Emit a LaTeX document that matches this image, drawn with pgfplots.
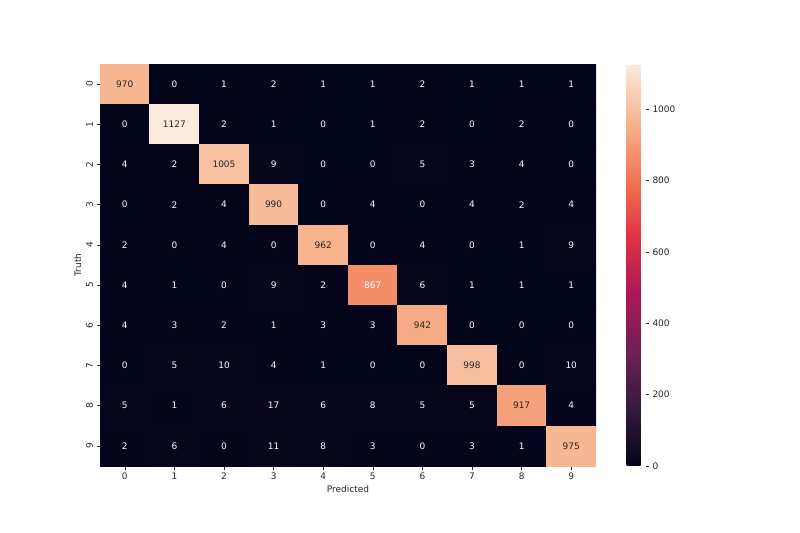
\documentclass[border=0pt]{standalone}
\usepackage{fontspec}
\setmainfont{DejaVu Sans}
\usepackage{pgfplots}
\pgfplotsset{compat=1.18}
\usepackage{pgfplotstable}
\definecolor{txtdark}{HTML}{262626}
\pgfplotsset{
  /pgf/number format/assume math mode=true,
  /pgf/number format/1000 sep={},
  colormap={rocket}{rgb255=(3,5,26) rgb255=(53,25,62) rgb255=(112,31,87) rgb255=(173,23,89) rgb255=(225,51,66) rgb255=(243,118,81) rgb255=(246,180,143) rgb255=(250,235,221)}
}
\pgfplotstableread{
x y v
0 0 970
1 0 0
2 0 1
3 0 2
4 0 1
5 0 1
6 0 2
7 0 1
8 0 1
9 0 1
0 1 0
1 1 1127
2 1 2
3 1 1
4 1 0
5 1 1
6 1 2
7 1 0
8 1 2
9 1 0
0 2 4
1 2 2
2 2 1005
3 2 9
4 2 0
5 2 0
6 2 5
7 2 3
8 2 4
9 2 0
0 3 0
1 3 2
2 3 4
3 3 990
4 3 0
5 3 4
6 3 0
7 3 4
8 3 2
9 3 4
0 4 2
1 4 0
2 4 4
3 4 0
4 4 962
5 4 0
6 4 4
7 4 0
8 4 1
9 4 9
0 5 4
1 5 1
2 5 0
3 5 9
4 5 2
5 5 867
6 5 6
7 5 1
8 5 1
9 5 1
0 6 4
1 6 3
2 6 2
3 6 1
4 6 3
5 6 3
6 6 942
7 6 0
8 6 0
9 6 0
0 7 0
1 7 5
2 7 10
3 7 4
4 7 1
5 7 0
6 7 0
7 7 998
8 7 0
9 7 10
0 8 5
1 8 1
2 8 6
3 8 17
4 8 6
5 8 8
6 8 5
7 8 5
8 8 917
9 8 4
0 9 2
1 9 6
2 9 0
3 9 11
4 9 8
5 9 3
6 9 0
7 9 3
8 9 1
9 9 975
}\cm
\begin{document}
\begin{tikzpicture}
\path[use as bounding box] (0,0) rectangle (800bp,533bp);
\begin{axis}[
  at={(100bp,67bp)}, anchor=south west,
  scale only axis, width=496bp, height=402bp,
  xmin=-0.5, xmax=9.5, ymin=-0.5, ymax=9.5,
  y dir=reverse,
  xtick={0,...,9}, ytick={0,...,9},
  xtick pos=left, xticklabel pos=left, ytick pos=left,
  tick align=outside, major tick length=3.5bp,
  tick style={color=txtdark, line width=0.6pt},
  ticklabel style={font=\fontsize{9}{11}\selectfont, text=txtdark},
  yticklabel style={rotate=90, anchor=south},
  axis line style={draw=none},
  xlabel={Predicted}, ylabel={Truth},
  xlabel style={yshift=1bp},
  ylabel style={yshift=-2bp},
  label style={font=\fontsize{9}{11}\selectfont, text=txtdark},
  colormap name=rocket,
  point meta min=0, point meta max=1127,
  colorbar,
  colorbar style={
    at={(parent axis.north east)}, anchor=north west, xshift=22bp,
    width=19bp,
    ytick={0,200,400,600,800,1000},
    tick align=outside, major tick length=3.5bp,
    ytick pos=right, yticklabel pos=right,
    yticklabel style={rotate=0, anchor=west},
    axis line style={draw=none},
  },
]
\addplot[matrix plot*, mesh/cols=10, point meta=explicit] table[x=x, y=y, meta=v] {\cm};
\addplot[only marks, mark=none, point meta=explicit symbolic,
  restrict expr to domain={\thisrow{v}}{0:900},
  nodes near coords, nodes near coords align=center,
  every node near coord/.append style={anchor=center, text=white, font=\fontsize{9}{11}\selectfont}]
  table[x=x, y=y, meta=v] {\cm};
\addplot[only marks, mark=none, point meta=explicit symbolic,
  restrict expr to domain={\thisrow{v}}{900:2000},
  nodes near coords, nodes near coords align=center,
  every node near coord/.append style={anchor=center, text=txtdark, font=\fontsize{9}{11}\selectfont}]
  table[x=x, y=y, meta=v] {\cm};
\end{axis}
\end{tikzpicture}
\end{document}
